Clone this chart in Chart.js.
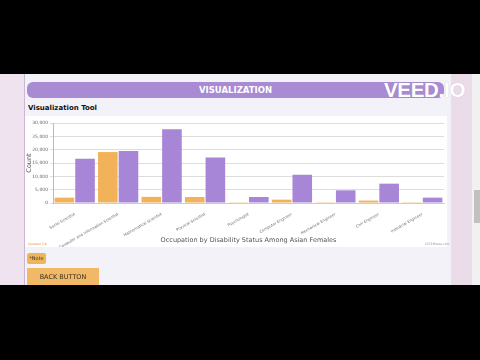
<!DOCTYPE html>
<html>
<head>
<meta charset="utf-8">
<script src="https://cdn.jsdelivr.net/npm/chart.js@4"></script>
<style>
  html,body{margin:0;padding:0;}
  body{width:480px;height:360px;background:#000;position:relative;overflow:hidden;font-family:"DejaVu Sans",sans-serif;}
  .abs{position:absolute;}
  #page{left:0;top:74px;width:480px;height:211px;background:#eee3ee;}
  #content{left:24px;top:74px;width:426px;height:211px;background:#f3f2f8;border-left:1px solid #cbb6d3;border-right:1px solid #cbb6d3;}
  #rightpanel{left:451px;top:74px;width:21px;height:211px;background:#ebdcea;}
  #scroll{left:472px;top:74px;width:8px;height:211px;background:#f1f1f1;}
  #thumb{left:474px;top:190px;width:6px;height:33px;background:#c1c1c1;}
  #header{left:27px;top:82px;width:417px;height:16px;background:#a98bd3;border-radius:6px;color:#fff;font-weight:bold;font-size:8.5px;line-height:16px;text-align:center;}
  #veed{left:384px;top:78px;font-family:"Liberation Sans",sans-serif;font-weight:bold;font-size:20.5px;color:#fff;letter-spacing:-0.3px;text-shadow:0 0 1px rgba(120,100,140,0.35);}
  #vtool{left:28px;top:104px;font-size:7px;font-weight:bold;color:#111;}
  #chartbox{left:25px;top:116px;width:422px;height:131px;background:#fff;}
  #note{left:27px;top:253px;width:19px;height:11px;background:#f0b459;border-radius:2px;font-size:5px;line-height:11px;text-align:center;color:#333;}
  #back{left:27px;top:268px;width:72px;height:17px;background:#f1b866;font-size:6.5px;line-height:18px;text-align:center;color:#3a3020;}
  #foot1{left:28px;top:242px;font-size:3px;color:#e09a50;}
  #foot2{left:425px;top:242px;font-size:3px;color:#999;}
</style>
</head>
<body>
<div id="page" class="abs"></div>
<div id="content" class="abs"></div>
<div id="rightpanel" class="abs"></div>
<div id="scroll" class="abs"></div>
<div id="thumb" class="abs"></div>
<div id="header" class="abs">VISUALIZATION</div>
<div id="vtool" class="abs">Visualization Tool</div>
<div id="chartbox" class="abs"><canvas id="c" width="422" height="131"></canvas></div>
<div id="foot1" class="abs">Updated 5/8</div>
<div id="foot2" class="abs">CSTEMdata.com</div>
<div id="note" class="abs">*Note</div>
<div id="back" class="abs">BACK BUTTON</div>
<div id="veed" class="abs">VEED.IO</div>
<script>
const categories = [
  "Social Scientist",
  "Computer and Information Scientist",
  "Mathematical Scientist",
  "Physical Scientist",
  "Psychologist",
  "Computer Engineer",
  "Mechanical Engineer",
  "Civil Engineer",
  "Industrial Engineer"
];
const seriesOrange = [2000, 19100, 2300, 2250, 100, 1250, 300, 900, 300];
const seriesPurple = [16600, 19500, 27700, 17100, 2250, 10600, 4750, 7250, 2000];
const yTicks = [0, 5000, 10000, 15000, 20000, 25000, 30000];
const xTitle = "Occupation by Disability Status Among Asian Females";
const yTitle = "Count";

new Chart(document.getElementById('c'), {
  type: 'bar',
  data: {
    labels: categories,
    datasets: [
      {label: 'With Disability', data: seriesOrange, backgroundColor: '#f1b259', barPercentage: 0.95, categoryPercentage: 0.95},
      {label: 'Without Disability', data: seriesPurple, backgroundColor: '#a886d7', barPercentage: 0.95, categoryPercentage: 0.95}
    ]
  },
  options: {
    responsive: false,
    animation: false,
    layout: {padding: {top: 7, right: 3, left: 0, bottom: 0}},
    plugins: {legend: {display: false}, tooltip: {enabled: false}},
    scales: {
      x: {
        grid: {display: false},
        border: {color: '#ccc'},
        ticks: {color: '#666', font: {size: 3.8, family: 'DejaVu Sans'}, minRotation: 30, maxRotation: 30, autoSkip: false, padding: 1},
        title: {display: true, text: xTitle, color: '#555', font: {size: 6.5, family: 'DejaVu Sans'}, padding: {top: 2, bottom: 3}},
        afterFit: s => { s.height = 44; }
      },
      y: {
        min: 0, max: 30000,
        afterBuildTicks: s => { s.ticks = yTicks.map(v => ({value: v})); },
        grid: {color: '#ddd', tickLength: 3},
        border: {color: '#bbb'},
        ticks: {color: '#666', font: {size: 4.5, family: 'DejaVu Sans'}, padding: 2,
          callback: v => v.toLocaleString('en-US')},
        title: {display: true, text: yTitle, color: '#555', font: {size: 6.5, family: 'DejaVu Sans'}, padding: {top: 0, bottom: 2}},
        afterFit: s => { s.width = 28; }
      }
    }
  }
});
</script>
</body>
</html>
